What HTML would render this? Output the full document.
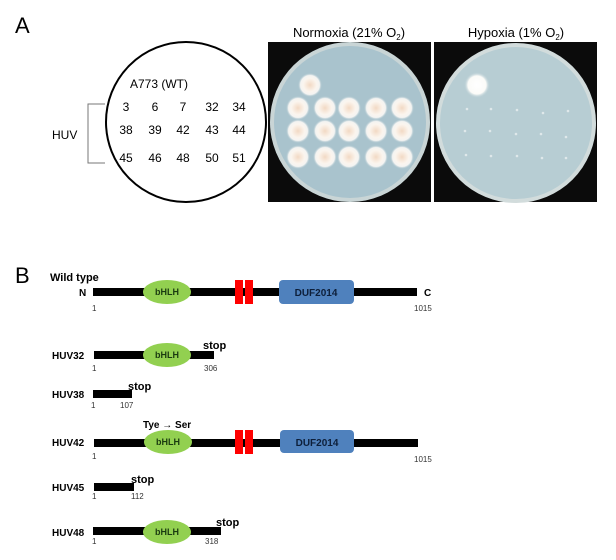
<!DOCTYPE html>
<html><head><meta charset="utf-8"><style>
html,body{margin:0;padding:0;background:#fff;}
svg{display:block;}
text{font-family:"Liberation Sans",sans-serif;}
</style></head><body>
<svg width="616" height="560" viewBox="0 0 616 560" xmlns="http://www.w3.org/2000/svg">
<defs>
<radialGradient id="col" cx="50%" cy="50%" r="50%">
<stop offset="0" stop-color="#f2d9c4"/><stop offset="0.55" stop-color="#fbf5ee"/><stop offset="0.8" stop-color="#f4f4f2"/><stop offset="1" stop-color="#b8cdd4" stop-opacity="0"/>
</radialGradient>
<radialGradient id="colw" cx="50%" cy="50%" r="50%">
<stop offset="0" stop-color="#ffffff"/><stop offset="0.7" stop-color="#fbfbf8"/><stop offset="1" stop-color="#b8cdd4" stop-opacity="0"/>
</radialGradient>
</defs>
<text x="15" y="33" font-size="22">A</text>
<text x="15" y="283" font-size="22">B</text>
<!-- circle panel -->
<circle cx="186" cy="122" r="80" fill="none" stroke="#000" stroke-width="2"/>
<text x="130" y="88" font-size="12">A773 (WT)</text>
<g font-size="12" text-anchor="middle">
<text x="126" y="111">3</text><text x="155" y="111">6</text><text x="183" y="111">7</text><text x="212" y="111">32</text><text x="239" y="111">34</text>
<text x="126" y="134">38</text><text x="155" y="134">39</text><text x="183" y="134">42</text><text x="212" y="134">43</text><text x="239" y="134">44</text>
<text x="126" y="162">45</text><text x="155" y="162">46</text><text x="183" y="162">48</text><text x="212" y="162">50</text><text x="239" y="162">51</text>
</g>
<text x="52" y="139" font-size="12">HUV</text>
<polyline points="105,104 88,104 88,163 105,163" fill="none" stroke="#777" stroke-width="1"/>
<!-- plates -->
<text x="349" y="37" font-size="13" text-anchor="middle">Normoxia (21% O<tspan font-size="8" dy="3">2</tspan><tspan dy="-3">)</tspan></text>
<text x="516" y="37" font-size="13" text-anchor="middle">Hypoxia (1% O<tspan font-size="8" dy="3">2</tspan><tspan dy="-3">)</tspan></text>
<rect x="268" y="42" width="163" height="160" fill="#0b0b0b"/>
<circle cx="350" cy="122" r="80" fill="#c9d5d6"/>
<circle cx="350" cy="122" r="76" fill="#a9c3cd"/>
<rect x="434" y="42" width="163" height="160" fill="#0b0b0b"/>
<circle cx="516" cy="123" r="80" fill="#d2dcdc"/>
<circle cx="516" cy="123" r="76" fill="#b7cdd3"/>
<g fill="url(#col)">
<circle cx="310" cy="85" r="12"/>
<circle cx="298" cy="108" r="12"/><circle cx="325" cy="108" r="12"/><circle cx="349" cy="108" r="12"/><circle cx="376" cy="108" r="12"/><circle cx="402" cy="108" r="12"/>
<circle cx="298" cy="131" r="12"/><circle cx="325" cy="131" r="12"/><circle cx="349" cy="131" r="12"/><circle cx="376" cy="131" r="12"/><circle cx="402" cy="131" r="12"/>
<circle cx="298" cy="157" r="12"/><circle cx="325" cy="157" r="12"/><circle cx="349" cy="157" r="12"/><circle cx="376" cy="157" r="12"/><circle cx="402" cy="157" r="12"/>
</g>
<circle cx="477" cy="85" r="13" fill="url(#colw)"/>
<g fill="#dfe8ea">
<circle cx="467" cy="109" r="1.3"/><circle cx="491" cy="109" r="1.3"/><circle cx="517" cy="110" r="1.3"/><circle cx="543" cy="113" r="1.3"/><circle cx="568" cy="111" r="1.3"/>
<circle cx="465" cy="131" r="1.3"/><circle cx="490" cy="131" r="1.3"/><circle cx="516" cy="134" r="1.3"/><circle cx="541" cy="134" r="1.3"/><circle cx="566" cy="137" r="1.3"/>
<circle cx="466" cy="155" r="1.3"/><circle cx="491" cy="156" r="1.3"/><circle cx="517" cy="156" r="1.3"/><circle cx="542" cy="158" r="1.3"/><circle cx="566" cy="158" r="1.3"/>
</g>
<!-- B panel -->
<g font-size="10" font-weight="bold">
<text x="50" y="281" font-size="11">Wild type</text>
<text x="79" y="296">N</text><text x="424" y="296">C</text>
<text x="52" y="359">HUV32</text>
<text x="52" y="398">HUV38</text>
<text x="52" y="446">HUV42</text>
<text x="52" y="491">HUV45</text>
<text x="52" y="536">HUV48</text>
<text x="203" y="349" font-size="11">stop</text>
<text x="128" y="390" font-size="11">stop</text>
<text x="131" y="483" font-size="11">stop</text>
<text x="216" y="526" font-size="11">stop</text>
<text x="143" y="428">Tye → Ser</text>
</g>
<g font-size="8" fill="#333">
<text x="92" y="311">1</text><text x="414" y="311">1015</text>
<text x="92" y="371">1</text><text x="204" y="371">306</text>
<text x="91" y="408">1</text><text x="120" y="408">107</text>
<text x="92" y="459">1</text><text x="414" y="462">1015</text>
<text x="92" y="499">1</text><text x="131" y="499">112</text>
<text x="92" y="544">1</text><text x="205" y="544">318</text>
</g>
<g fill="#000">
<rect x="93" y="288" width="324" height="8"/>
<rect x="94" y="351" width="120" height="8"/>
<rect x="93" y="390" width="39" height="8"/>
<rect x="94" y="439" width="324" height="8"/>
<rect x="94" y="483" width="40" height="8"/>
<rect x="93" y="527" width="128" height="8"/>
</g>
<g fill="#92d050" font-size="9" font-weight="bold">
<ellipse cx="167" cy="292" rx="24" ry="12"/>
<ellipse cx="167" cy="355" rx="24" ry="12"/>
<ellipse cx="168" cy="442" rx="24" ry="12"/>
<ellipse cx="167" cy="532" rx="24" ry="12"/>
</g>
<g font-size="9" font-weight="bold" fill="#1a3a10" text-anchor="middle">
<text x="167" y="295">bHLH</text><text x="167" y="358">bHLH</text><text x="168" y="445">bHLH</text><text x="167" y="535">bHLH</text>
</g>
<g fill="#ff0000">
<rect x="235" y="280" width="8" height="24"/><rect x="245" y="280" width="8" height="24"/>
<rect x="235" y="430" width="8" height="24"/><rect x="245" y="430" width="8" height="24"/>
</g>
<rect x="279" y="280" width="75" height="24" rx="4" fill="#4f81bd"/>
<rect x="280" y="430" width="74" height="23" rx="4" fill="#4f81bd"/>
<g font-size="10" font-weight="bold" fill="#0d1f3a" text-anchor="middle">
<text x="316" y="296">DUF2014</text><text x="317" y="446">DUF2014</text>
</g>
</svg>
</body></html>
